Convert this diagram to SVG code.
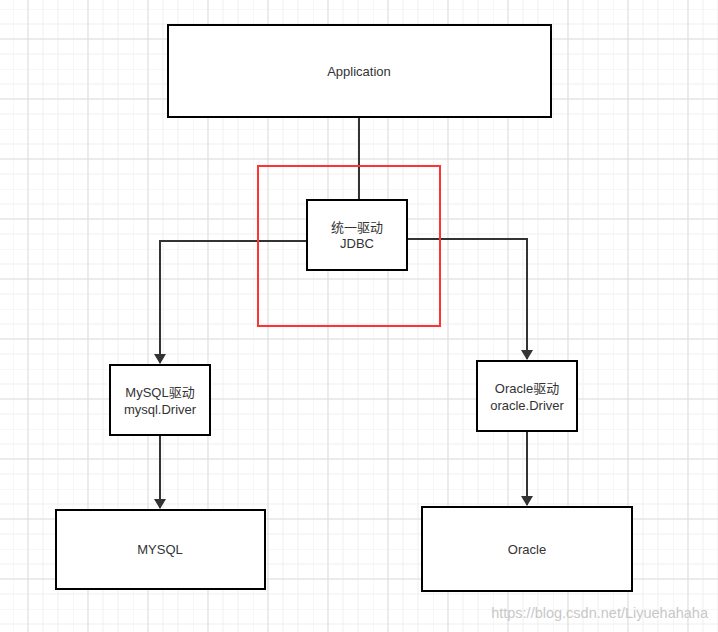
<svg xmlns="http://www.w3.org/2000/svg" width="718" height="632" viewBox="0 0 718 632">
<defs>
<pattern id="g" x="13" y="9" width="60" height="60" patternUnits="userSpaceOnUse">
<path d="M0 0V60M15 0V60M30 0V60M45 0V60M0 0H60M0 15H60M0 30H60M0 45H60" stroke="#efefef" stroke-width="1" fill="none"/>
<path d="M15 0V60M0 30H60" stroke="#e0e0e0" stroke-width="1" fill="none"/>
</pattern>
<marker id="a" markerWidth="10" markerHeight="12" refX="9" refY="6" orient="auto" markerUnits="userSpaceOnUse">
<path d="M0 0L10 6L0 12Z" fill="#333"/>
</marker>
<style>
.n{fill:#fff;stroke:#000;stroke-width:2}
.t{font-family:"Liberation Sans","Noto Sans CJK SC",sans-serif;font-size:13px;fill:#333;text-anchor:middle}
.c{fill:none;stroke:#333;stroke-width:2}
</style>
</defs>
<rect width="718" height="632" fill="#fff"/>
<rect width="718" height="632" fill="url(#g)"/>
<g id="connectors">
<path class="c" d="M359 117V200"/>
<path class="c" d="M307 241H160V363" marker-end="url(#a)"/>
<path class="c" d="M407 239H527V359" marker-end="url(#a)"/>
<path class="c" d="M160 435V508" marker-end="url(#a)"/>
<path class="c" d="M527 431V505" marker-end="url(#a)"/>
</g>
<g id="app"><rect class="n" x="168" y="25" width="383" height="92"/><text class="t" x="359" y="76">Application</text></g>
<g id="jdbc"><rect class="n" x="307" y="200" width="100" height="70"/><text class="t" x="357" y="232">统一驱动</text><text class="t" x="357" y="248">JDBC</text></g>
<g id="highlight"><rect x="258" y="166" width="182" height="160" fill="none" stroke="#f33" stroke-width="2"/></g>
<g id="mysqldriver"><rect class="n" x="110" y="365" width="100" height="70"/><text class="t" x="160" y="397">MySQL驱动</text><text class="t" x="160" y="414">mysql.Driver</text></g>
<g id="oracledriver"><rect class="n" x="477" y="361" width="100" height="70"/><text class="t" x="527" y="393">Oracle驱动</text><text class="t" x="527" y="410">oracle.Driver</text></g>
<g id="mysql"><rect class="n" x="56" y="510" width="209" height="79"/><text class="t" x="160" y="554">MYSQL</text></g>
<g id="oracle"><rect class="n" x="422" y="507" width="210" height="84"/><text class="t" x="527" y="554">Oracle</text></g>
<text x="708" y="618" font-family="'Liberation Sans',sans-serif" font-size="14.5" fill="#c8c8c8" text-anchor="end">https://blog.csdn.net/Liyuehahaha</text>
</svg>
